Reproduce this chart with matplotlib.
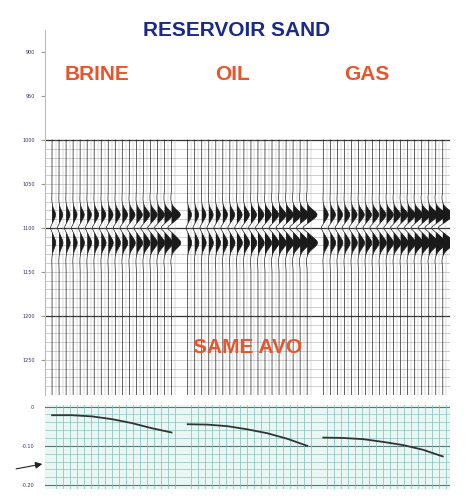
import numpy as np
import matplotlib.pyplot as plt

groups = ["BRINE", "OIL", "GAS"]
brine_amp = [1.0,1.05,1.1,1.1,1.15,1.2,1.25,1.3,1.35,1.4,1.5,1.6,1.7,1.8,1.9,2.0,2.2,2.5]
oil_amp   = [1.1,1.15,1.2,1.25,1.3,1.35,1.4,1.5,1.55,1.6,1.7,1.8,1.9,2.0,2.1,2.3,2.5,2.8]
gas_amp   = [1.4,1.45,1.5,1.55,1.6,1.65,1.7,1.8,1.85,1.9,2.0,2.1,2.2,2.3,2.4,2.6,2.8,3.0]
time_ticks = [900, 950, 1000, 1050, 1100, 1150, 1200, 1250]
avo_brine = [-0.022, -0.022, -0.025, -0.032, -0.042, -0.055, -0.066]
avo_oil   = [-0.045, -0.046, -0.050, -0.058, -0.068, -0.082, -0.100]
avo_gas   = [-0.079, -0.080, -0.083, -0.090, -0.098, -0.110, -0.127]
avo_ticks = [0, -0.10, -0.20]
avo_labels = ["0", "-0.10", "-0.20"]

amps = [brine_amp, oil_amp, gas_amp]
avos = [avo_brine, avo_oil, avo_gas]
gap = 19.3
xpos = [np.arange(18) + g*gap for g in range(3)]
allx = np.concatenate(xpos)

fig = plt.figure(figsize=(4.74, 5.0), dpi=100)
fig.patch.set_facecolor('white')
ax = fig.add_axes([0.095, 0.21, 0.854, 0.73])
ax.set_xlim(-1.0, 2*gap + 18.0)
ax.set_ylim(1290, 875)
for s in ['top', 'right', 'bottom']:
    ax.spines[s].set_visible(False)
ax.spines['left'].set_color('#bbbbbb')
ax.set_xticks([])
ax.set_yticks(time_ticks)
ax.set_yticklabels([str(t) for t in time_ticks], fontsize=3.5, color='#333366')
ax.tick_params(axis='y', length=3, color='#999999', pad=4)

for t in np.arange(1000, 1291, 10):
    major = t % 100 == 0
    ax.plot([-1, 2*gap+18], [t, t], color='#333333' if major else '#aaaaaa',
            lw=0.9 if major else 0.4, zorder=1)
for x in allx:
    ax.plot([x+0.5, x+0.5], [1000, 1290], color='#aaaaaa', lw=0.3, zorder=1)

t = np.linspace(1000, 1290, 1200)
w = (np.exp(-((t-1085)/7.5)**2) + 1.05*np.exp(-((t-1117)/8.5)**2)
     - 0.45*np.exp(-((t-1100)/4.5)**2) - 0.08*np.exp(-((t-1066)/6)**2)
     - 0.08*np.exp(-((t-1138)/6)**2))
for g in range(3):
    for x, a in zip(xpos[g], amps[g]):
        d = x + a*0.5*w
        ax.plot(d, t, color='#222222', lw=0.5, zorder=3)
        ax.fill_betweenx(t, x, d, where=w > 0, color='#1a1a1a', lw=0, zorder=3)

bx = fig.add_axes([0.095, 0.022, 0.854, 0.168])
bx.set_facecolor('#e8f7f4')
bx.set_xlim(-1.0, 2*gap + 18.0)
bx.set_ylim(-0.21, 0.004)
for s in bx.spines.values():
    s.set_visible(False)
bx.set_xticks([])
bx.set_yticks(avo_ticks)
bx.set_yticklabels(avo_labels, fontsize=3.5, color='#333366')
bx.tick_params(axis='y', length=0, pad=8)
for v in np.arange(0, -0.2101, -0.02):
    major = abs(v*10 - round(v*10)) < 1e-6
    bx.axhline(v, color='#557777' if major else '#8fc6c0', lw=0.8 if major else 0.5, zorder=1)
for x in allx:
    bx.axvline(x+0.5, color='#7fbdb5', lw=0.5, zorder=1)
for g in range(3):
    xs = np.linspace(xpos[g][0], xpos[g][-1], len(avos[g]))
    bx.plot(xs, avos[g], color='#333333', lw=1.3, zorder=3)
bx.annotate('', xy=(-1.0, -0.145), xytext=(-5.5, -0.16), xycoords='data',
            arrowprops=dict(arrowstyle='-|>', color='#222222', lw=0.8),
            annotation_clip=False)

fig.text(0.5, 0.94, "RESERVOIR SAND", ha='center', va='center', family='Liberation Sans',
         fontsize=15, fontweight='bold', color='#1a2a8a')
for name, px in zip(groups, [97, 232, 367]):
    fig.text(px/474, 0.85, name, ha='center', va='center', family='Liberation Sans',
             fontsize=15, fontweight='bold', color='#e8552a')
fig.text(248/474, 0.305, "SAME AVO", ha='center', va='center', family='Liberation Sans',
         fontsize=15, fontweight='bold', color='#e8552a')

fig.savefig('out.png', dpi=100, facecolor='white')
